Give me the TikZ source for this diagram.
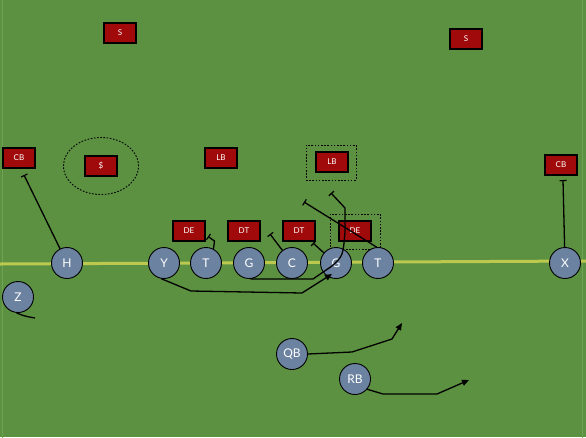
\documentclass[tikz,border=0pt]{standalone}
\usepackage{fontspec}
\setmainfont{Lato}
\usetikzlibrary{arrows.meta,shapes.geometric}
\definecolor{field}{HTML}{5B9141}
\definecolor{fieldedge}{HTML}{6FA352}
\definecolor{scrim}{HTML}{BCC94E}
\definecolor{plyr}{HTML}{6B82A0}
\definecolor{dred}{HTML}{A00A0A}
\tikzset{
  player/.style={circle,draw=black,line width=0.9pt,fill=plyr,minimum size=31pt,inner sep=0pt,text=white,font=\fontsize{12}{12}\selectfont},
  defbox/.style={rectangle,draw=black,line width=1.1pt,fill=dred,minimum width=32pt,minimum height=20pt,inner sep=0pt,text=white,font=\fontsize{8}{8}\selectfont},
  route/.style={draw=black,line width=1.3pt,line join=round},
  block/.style={route,-{Bar[width=7pt,line width=1.2pt]}},
  runarrow/.style={route,-{Triangle[width=6pt,length=7pt]}},
  zone/.style={draw=black,line width=0.9pt,dash pattern=on 1.6pt off 1.6pt}
}
\begin{document}
\begin{tikzpicture}[x=1pt,y=-1pt]
\fill[field] (0,0) rectangle (586,437);
\useasboundingbox (0,0) rectangle (586,437);
\draw[fieldedge,line width=0.8pt] (2,-2) -- (2,439);
\draw[fieldedge,line width=0.8pt] (582,-2) -- (582,439);
% line of scrimmage
\draw[scrim,line width=3pt] (0,264) -- (586,261);

% defense
\node[defbox] (s1) at (120,33) {S};
\node[defbox] (s2) at (466,39) {S};
\node[defbox] (cb1) at (19,158) {CB};
\node[defbox] (sd) at (101,166) {\$};
\node[defbox] (lb1) at (221,158) {LB};
\node[defbox] (lb2) at (332,162) {LB};
\node[defbox] (de1) at (189,231) {DE};
\node[defbox] (dt1) at (244,231) {DT};
\node[defbox] (dt2) at (299,231) {DT};
\node[defbox] (de2) at (355,231) {DE};
\node[defbox] (cb2) at (561,165) {CB};

% zones
\node[zone,ellipse,minimum width=75pt,minimum height=57pt] (sdz) at (101,166) {};
\node[zone,rectangle,minimum width=50pt,minimum height=35pt] (lb2z) at (331,162.5) {};
\node[zone,rectangle,minimum width=50pt,minimum height=35pt] (de2z) at (355,231.5) {};

% offense
\node[player] (h) at (67,263) {H};
\node[player] (y) at (164,263) {Y};
\node[player] (t1) at (206,263) {T};
\node[player] (g1) at (249,263) {G};
\node[player] (c) at (292,263) {C};
\node[player] (g2) at (336,263) {G};
\node[player] (t2) at (378,263) {T};
\node[player] (x) at (565,263) {X};
\node[player] (z) at (18,297) {Z};
\node[player] (qb) at (292,354) {QB};
\node[player] (rb) at (355,379) {RB};

% route end points
\coordinate (hE) at (24,175);
\coordinate (xE) at (563,180);
\coordinate (zE) at (35,318);
\coordinate (t1E) at (208,236.5);
\coordinate (cE) at (270,234);
\coordinate (g2E) at (313,243);
\coordinate (t2E) at (304,202);
\coordinate (g1E) at (331,193);
\coordinate (yE) at (332,274);
\coordinate (qbE) at (402,323);
\coordinate (rbE) at (469,380);

% routes
\draw[block] (h) -- (hE);
\draw[block] (x) -- (xE);
\draw[route] (z.-95) .. controls (24,316) .. (zE);
\draw[block] (t1.62) -- (214.5,241) -- (t1E);
\draw[block] (c) -- (cE);
\draw[block] (g2.140) -- (g2E);
\draw[block] (t2.95) -- (t2E);
\draw[block] (g1.-85) -- (313,279) -- (332,266) .. controls (343,256) .. (345,232) -- (345,208) -- (g1E);
\draw[runarrow] (y.-100) -- (191,291) -- (302,293) -- (yE);
\draw[runarrow] (qb.east) -- (352,352) -- (392,339) -- (qbE);
\draw[runarrow] (rb.-40) -- (383,394) -- (437,394) -- (rbE);
\end{tikzpicture}
\end{document}
